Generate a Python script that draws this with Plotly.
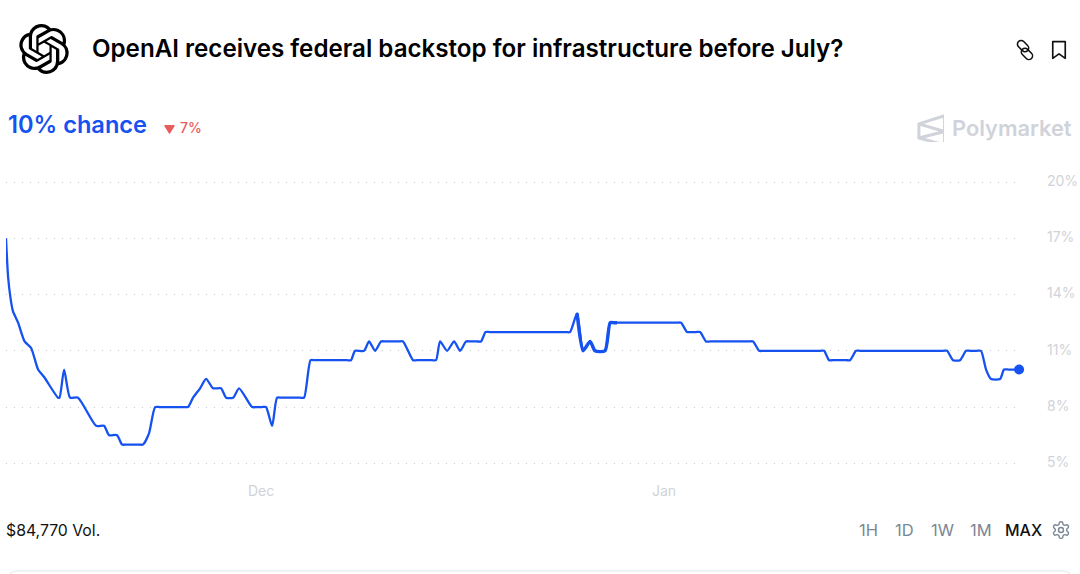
import base64
import pandas as pd
import plotly.graph_objects as go

# days counted from Dec 1
days = [-19.62, -19.46, -19.27, -19.08, -18.69, -18.19, -17.69, -17.15, -16.69, -15.62,
        -15.5, -15.15, -14.69, -14.08, -12.69, -12.08, -11.69, -11.08, -10.69, -10.35,
        -9.4, -9.08, -8.62, -8.15, -7.8, -5.95, -5.62, -5.23, -4.69, -4.23,
        -3.69, -3.08, -2.69, -2.15, -1.69, -0.69, -0.35, 0.05, 0.38, 0.85,
        1.23, 1.55, 3.0, 3.31, 3.81, 4.15, 6.6, 6.92, 7.23, 7.92,
        8.31, 8.77, 9.23, 9.55, 10.6, 10.92, 11.69, 12.0, 13.15, 13.46,
        13.77, 14.31, 14.85, 15.31, 15.77, 16.1, 16.6, 16.92, 17.27, 17.6,
        23.45, 23.77, 24.31, 24.77, 25.31, 25.69, 26.46, 26.85, 27.15, 27.38,
        32.0, 32.31, 32.77, 33.1, 33.45, 33.77, 34.23, 34.55, 37.55, 37.85,
        38.31, 38.65, 43.0, 43.31, 43.69, 44.0, 45.0, 45.31, 45.77, 46.1,
        52.45, 52.77, 53.23, 53.77, 54.23, 54.55, 55.05, 55.38, 55.77, 56.15,
        56.85, 57.15, 57.5, 58.0, 58.31]
chance = [17, 14.95, 13.8, 13.1, 12.5, 11.5, 11.15, 10, 9.6, 8.5,
          8.5, 10, 8.5, 8.5, 7, 7, 6.5, 6.5, 6, 6,
          6, 6, 6.6, 8, 8, 8, 8, 8.5, 9, 9.5,
          9, 9, 8.5, 8.5, 9, 8, 8, 8, 8, 7,
          8.5, 8.5, 8.5, 8.5, 10.5, 10.5, 10.5, 10.5, 11, 11,
          11.5, 11, 11.5, 11.5, 11.5, 11.5, 10.5, 10.5, 10.5, 10.5,
          11.5, 11, 11.5, 11, 11.5, 11.5, 11.5, 11.5, 12, 12,
          12, 12, 13, 11, 11.5, 11, 11, 12.5, 12.5, 12.5,
          12.5, 12.5, 12, 12, 12, 12, 11.5, 11.5, 11.5, 11.5,
          11, 11, 11, 11, 10.5, 10.5, 10.5, 10.5, 11, 11,
          11, 11, 10.5, 10.5, 11, 11, 11, 11, 10, 9.5,
          9.5, 10, 10, 10, 10]
y_ticks = [5, 8, 11, 14, 17, 20]
x_ticks = ["2025-12-01", "2026-01-01"]
x_tick_labels = ["Dec", "Jan"]
range_buttons = ["1H", "1D", "1W", "1M"]

BLUE = "#1652f0"
LIGHT = "#d0d3d9"
GREY = "#7b8794"
FONT = "Inter"
W, H = 1080, 574
L, R, T, B = 6, 60, 170, 94

start = pd.Timestamp("2025-12-01")
dates = start + pd.to_timedelta(days, unit="D")
thick = [i for i, d in enumerate(days) if 24.31 <= d <= 27.38]


def px(x):
    return (x - L) / (W - L - R)


def py(y):
    return (H - B - y) / (H - T - B)


def svg_icon(x0, y0, size, body, box=24):
    svg = f'<svg xmlns="http://www.w3.org/2000/svg" viewBox="0 0 {box} {box}">{body}</svg>'
    src = "data:image/svg+xml;base64," + base64.b64encode(svg.encode()).decode()
    return dict(source=src, xref="paper", yref="paper", x=px(x0), y=py(y0),
                sizex=size / (W - L - R), sizey=size / (H - T - B),
                xanchor="left", yanchor="top", sizing="contain", layer="above")


def label(x, y, text, size, color, weight=400, anchor="left"):
    return dict(x=px(x), y=py(y), xref="paper", yref="paper", text=text, showarrow=False,
                xanchor=anchor, yanchor="middle",
                font=dict(family=FONT, size=size, color=color, weight=weight))


OPENAI = ("M22.2819 9.8211a5.9847 5.9847 0 0 0-.5157-4.9108 6.0462 6.0462 0 0 0-6.5098-2.9A6.0651 6.0651 0 0 0 4.9807 4.1818"
          "a5.9847 5.9847 0 0 0-3.9977 2.9 6.0462 6.0462 0 0 0 .7427 7.0966 5.98 5.98 0 0 0 .511 4.9107 6.051 6.051 0 0 0 6.5146 2.9001"
          "A5.9847 5.9847 0 0 0 13.2599 24a6.0557 6.0557 0 0 0 5.7718-4.2058 5.9894 5.9894 0 0 0 3.9977-2.9001 6.0557 6.0557 0 0 0-.7475-7.0729z"
          "m-9.022 12.6081a4.4755 4.4755 0 0 1-2.8764-1.0408l.1419-.0804 4.7783-2.7582a.7948.7948 0 0 0 .3927-.6813v-6.7369l2.02 1.1686"
          "a.071.071 0 0 1 .038.052v5.5826a4.504 4.504 0 0 1-4.4945 4.4944zm-9.6607-4.1254a4.4708 4.4708 0 0 1-.5346-3.0137l.142.0852 4.783 2.7582"
          "a.7712.7712 0 0 0 .7806 0l5.8428-3.3685v2.3324a.0804.0804 0 0 1-.0332.0615L9.74 19.9502a4.4992 4.4992 0 0 1-6.1408-1.6464z"
          "M2.3408 7.8956a4.485 4.485 0 0 1 2.3655-1.9728V11.6a.7664.7664 0 0 0 .3879.6765l5.8144 3.3543-2.0201 1.1685a.0757.0757 0 0 1-.071 0"
          "l-4.8303-2.7865A4.504 4.504 0 0 1 2.3408 7.872zm16.5963 3.8558L13.1038 8.364 15.1192 7.2a.0757.0757 0 0 1 .071 0l4.8303 2.7913"
          "a4.4944 4.4944 0 0 1-.6765 8.1042v-5.6772a.79.79 0 0 0-.407-.667zm2.0107-3.0231l-.142-.0852-4.7735-2.7818a.7759.7759 0 0 0-.7854 0"
          "L9.409 9.2297V6.8974a.0662.0662 0 0 1 .0284-.0615l4.8303-2.7866a4.4992 4.4992 0 0 1 6.6802 4.66zM8.3065 12.863l-2.02-1.1638"
          "a.0804.0804 0 0 1-.038-.0567V6.0742a4.4992 4.4992 0 0 1 7.3757-3.4537l-.142.0805L8.704 5.459a.7948.7948 0 0 0-.3927.6813z"
          "m1.0976-2.3654l2.602-1.4998 2.6069 1.4998v2.9994l-2.5974 1.4997-2.6067-1.4997Z")
GEAR = ("M12.22 2h-.44a2 2 0 0 0-2 2v.18a2 2 0 0 1-1 1.73l-.43.25a2 2 0 0 1-2 0l-.15-.08a2 2 0 0 0-2.73.73l-.22.38a2 2 0 0 0 .73 2.73l.15.1"
        "a2 2 0 0 1 1 1.72v.51a2 2 0 0 1-1 1.74l-.15.09a2 2 0 0 0-.73 2.73l.22.38a2 2 0 0 0 2.73.73l.15-.08a2 2 0 0 1 2 0l.43.25a2 2 0 0 1 1 1.73V20"
        "a2 2 0 0 0 2 2h.44a2 2 0 0 0 2-2v-.18a2 2 0 0 1 1-1.73l.43-.25a2 2 0 0 1 2 0l.15.08a2 2 0 0 0 2.73-.73l.22-.39a2 2 0 0 0-.73-2.73l-.15-.08"
        "a2 2 0 0 1-1-1.74v-.5a2 2 0 0 1 1-1.74l.15-.09a2 2 0 0 0 .73-2.73l-.22-.38a2 2 0 0 0-2.73-.73l-.15.08a2 2 0 0 1-2 0l-.43-.25a2 2 0 0 1-1-1.73V4a2 2 0 0 0-2-2z")

icons = [
    svg_icon(19, 24, 50, f'<path fill="#000" d="{OPENAI}"/>'),
    svg_icon(1014, 39, 22, '<g fill="none" stroke="#111" stroke-width="1.7" transform="rotate(45 12 12)">'
                           '<rect x="0.5" y="6.5" width="14" height="8" rx="4"/><rect x="9.5" y="9.5" width="14" height="8" rx="4"/></g>'),
    svg_icon(1049, 40, 20, '<path fill="none" stroke="#111" stroke-width="2" stroke-linejoin="round" d="M4.5 2h15v20l-7.5-5.4L4.5 22z"/>'),
    svg_icon(1051, 520, 20, f'<g fill="none" stroke="{GREY}" stroke-width="1.7"><path d="{GEAR}"/><circle cx="12" cy="12" r="3"/></g>'),
    svg_icon(916, 114, 28, f'<path fill="none" stroke="{LIGHT}" stroke-width="2.6" stroke-linejoin="round" '
                           'd="M2.5 8.5L24.5 1.5V26.5L2.5 20.5ZM2.5 8.5L24.5 15L2.5 20.5"/>'),
    svg_icon(163, 122, 13, '<path fill="#e85c5c" stroke="#e85c5c" stroke-width="3" stroke-linejoin="round" d="M4 7H20L12 20Z"/>'),
]

labels = [
    label(90, 48, "OpenAI receives federal backstop for infrastructure before July?", 24.15, "#000", 600),
    label(6, 125, "10% chance", 23.6, BLUE, 600),
    label(178, 127, "7%", 14, "#e85c5c", 500),
    label(950, 128, "Polymarket", 21.8, LIGHT, 600),
    label(4, 530, "$84,770 Vol.", 15.8, "#111", 400),
    label(1044, 530, "MAX", 16, "#111", 500, "right"),
]
for name, center in zip(range_buttons, [868, 904, 942, 981]):
    labels.append(label(center, 530, name, 16.5, GREY, 400, "center"))

fig = go.Figure()
fig.add_trace(go.Scatter(x=dates, y=chance, mode="lines", showlegend=False,
                         line=dict(color=BLUE, width=2.3, shape="spline", smoothing=0.6)))
fig.add_trace(go.Scatter(x=dates[thick], y=[chance[i] for i in thick], mode="lines", showlegend=False,
                         line=dict(color=BLUE, width=3.4, shape="spline", smoothing=0.6)))
fig.add_trace(go.Scatter(x=dates[-1:], y=chance[-1:], mode="markers", showlegend=False, cliponaxis=False,
                         marker=dict(color=BLUE, size=10)))

fig.update_layout(
    width=W, height=H,
    margin=dict(l=L, r=R, t=T, b=B, autoexpand=False),
    paper_bgcolor="white", plot_bgcolor="white",
    font=dict(family=FONT, color=LIGHT),
    images=icons,
    annotations=labels,
    shapes=[dict(type="path", xref="paper", yref="paper", line=dict(color="#eceef0", width=1.5),
                 path=f"M {px(8)} {py(590)} L {px(8)} {py(581)} Q {px(8)} {py(571)} {px(18)} {py(571)} "
                      f"L {px(1062)} {py(571)} Q {px(1072)} {py(571)} {px(1072)} {py(581)} L {px(1072)} {py(590)}")],
)
fig.update_xaxes(
    range=[start + pd.Timedelta(days=-19.62), start + pd.Timedelta(days=58.38)],
    tickvals=x_ticks, ticktext=x_tick_labels, showgrid=False, zeroline=False, automargin=False,
    showline=False, ticks="", ticklabelstandoff=1, tickfont=dict(family=FONT, size=14, color=LIGHT),
)
fig.update_yaxes(
    range=[5 - (H - B - 463.3) / 18.75, 5 + (463.3 - T) / 18.75],
    tickvals=y_ticks, ticktext=[f"{v}%" for v in y_ticks], side="right", automargin=False,
    gridcolor="#c8ccd2", gridwidth=1, griddash="1px,7px", zeroline=False, showline=False,
    ticks="", ticklabelstandoff=26, ticklabelshift=-1, tickfont=dict(family=FONT, size=14, color=LIGHT),
)

fig.write_html("out.html", config={"displayModeBar": False},
               post_script="document.body.style.margin='0';")
